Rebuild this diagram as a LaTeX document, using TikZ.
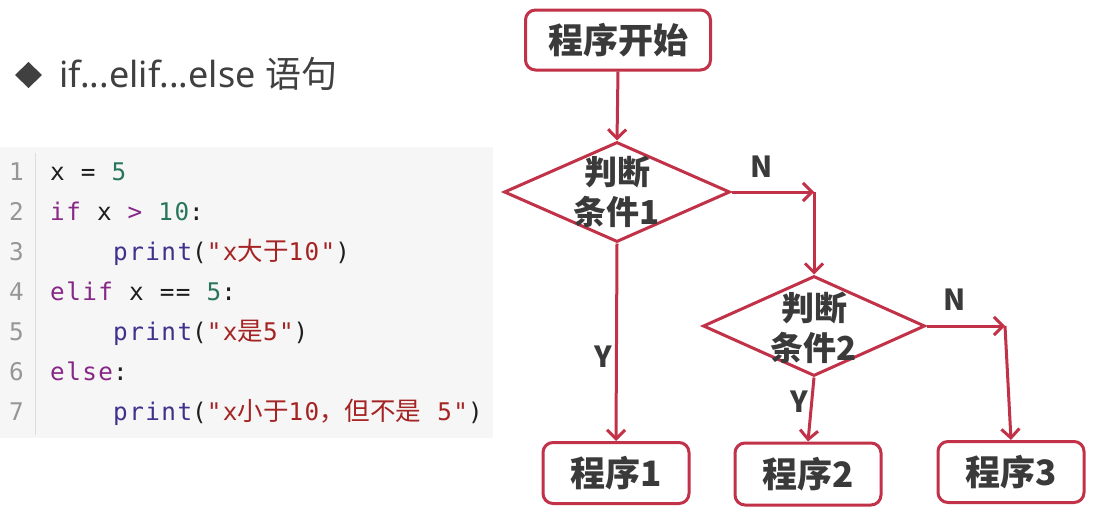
\documentclass[tikz,border=0pt]{standalone}
\usepackage{fontspec}
\usetikzlibrary{shapes.geometric,arrows.meta}
\setmainfont{Noto Sans}
\newfontfamily\codefont{DejaVu Sans Mono}[LetterSpace=6]
\newfontfamily\cjk{Noto Sans CJK SC}
\definecolor{fc}{RGB}{193,50,72}
\definecolor{ftext}{RGB}{58,58,58}
\definecolor{codebg}{RGB}{246,246,246}
\definecolor{sepcol}{RGB}{221,221,221}
\definecolor{lnum}{RGB}{150,150,150}
\definecolor{ckw}{RGB}{135,40,135}
\definecolor{cfn}{RGB}{62,48,140}
\definecolor{cnum}{RGB}{40,118,90}
\definecolor{cstr}{RGB}{165,35,35}
\definecolor{cblack}{RGB}{30,30,30}
\definecolor{ttl}{RGB}{64,64,64}
\newcommand{\cz}[1]{{\cjk\fontsize{25.5}{30}\selectfont #1}}
\begin{document}
\begin{tikzpicture}[x=1pt,y=-1pt,
  box/.style={draw=fc, line width=3pt, rounded corners=10pt, fill=white, inner sep=0pt,
    text=ftext, font=\cjk\bfseries\fontsize{35}{40}\selectfont},
  dia/.style={draw=fc, line width=3pt, shape=diamond, aspect=2.26, inner sep=0pt,
    minimum width=226pt, minimum height=100pt, fill=white},
  dtext/.style={text=ftext, align=center, inner sep=0pt,
    font=\cjk\bfseries\fontsize{33}{40}\selectfont},
  yn/.style={text=ftext, inner sep=0pt, font=\cjk\bfseries\fontsize{29}{34}\selectfont},
  arr/.style={draw=fc, line width=3pt, -{Straight Barb[length=9pt,width=18pt]}},
  code/.style={anchor=base west, inner sep=0pt, text=cblack, font=\codefont\fontsize{24.3}{30}\selectfont},
  lnumst/.style={anchor=base west, inner sep=0pt, text=lnum, font=\codefont\fontsize{24.3}{30}\selectfont}
]
\useasboundingbox (0,0) rectangle (1095,514);
\fill[white] (0,0) rectangle (1095,514);

% title
\fill[ttl] (15,75) -- (28.5,62) -- (42,75) -- (28.5,88) -- cycle;
\node[anchor=base west, inner sep=0pt, text=ttl, font=\fontsize{36}{40}\selectfont] (title) at (59,87)
  {if...elif...else {\cjk 语句}};

% code block
\fill[codebg] (0,147) rectangle (493,438);
\draw[sepcol, line width=1pt] (35.5,153) -- (35.5,435);
\foreach \n [count=\i from 0] in {1,...,7}{
  \node[lnumst] (ln\n) at (9,180+40*\i) {\n};
}
\node[code] (c1) at (50,180) {x = {\color{cnum}5}};
\node[code] (c2) at (50,220) {{\color{ckw}if} x {\color{ckw}>} {\color{cnum}10}:};
\node[code] (c3) at (113,260) {{\color{cfn}print}({\color{cstr}"x\cz{大于}10"})};
\node[code] (c4) at (50,300) {{\color{ckw}elif} x == {\color{cnum}5}:};
\node[code] (c5) at (113,340) {{\color{cfn}print}({\color{cstr}"x\cz{是}5"})};
\node[code] (c6) at (50,380) {{\color{ckw}else}:};
\node[code] (c7) at (113,420) {{\color{cfn}print}({\color{cstr}"x\cz{小于}10\cz{，但不是} 5"})};

% flowchart
\node[box, minimum width=185pt, minimum height=60pt] (start) at (618,40) {程序开始};
\node[dia] (d1) at (617,192) {};
\node[dtext] (t1) at (617,192) {判断\\条件1};
\node[dia, minimum width=222pt, aspect=2.2] (d2) at (814,326) {};
\node[dtext] (t2) at (814,328) {判断\\条件2};
\node[box, minimum width=146pt, minimum height=61pt] (p1) at (616,473) {程序1};
\node[box, minimum width=146pt, minimum height=62pt] (p2) at (808,474) {程序2};
\node[box, minimum width=146pt, minimum height=61pt] (p3) at (1011,472) {程序3};

\coordinate (k1) at (814,192);
\coordinate (k2) at (1005,326);

\draw[arr] (start.south) -- (d1.north);
\draw[arr] (d1.east) -- (k1);
\draw[arr] (k1) -- (d2.north);
\draw[arr] (d2.east) -- (k2);
\draw[arr] (k2) -- (p3.north);
\draw[arr] (d1.south) -- (p1.north);
\draw[arr] (d2.south) -- (p2.north);

\node[yn] (n1) at (762,167) {N};
\node[yn] (n2) at (955,300) {N};
\node[yn] (y1) at (603,357) {Y};
\node[yn] (y2) at (799,402) {Y};
\end{tikzpicture}
\end{document}
